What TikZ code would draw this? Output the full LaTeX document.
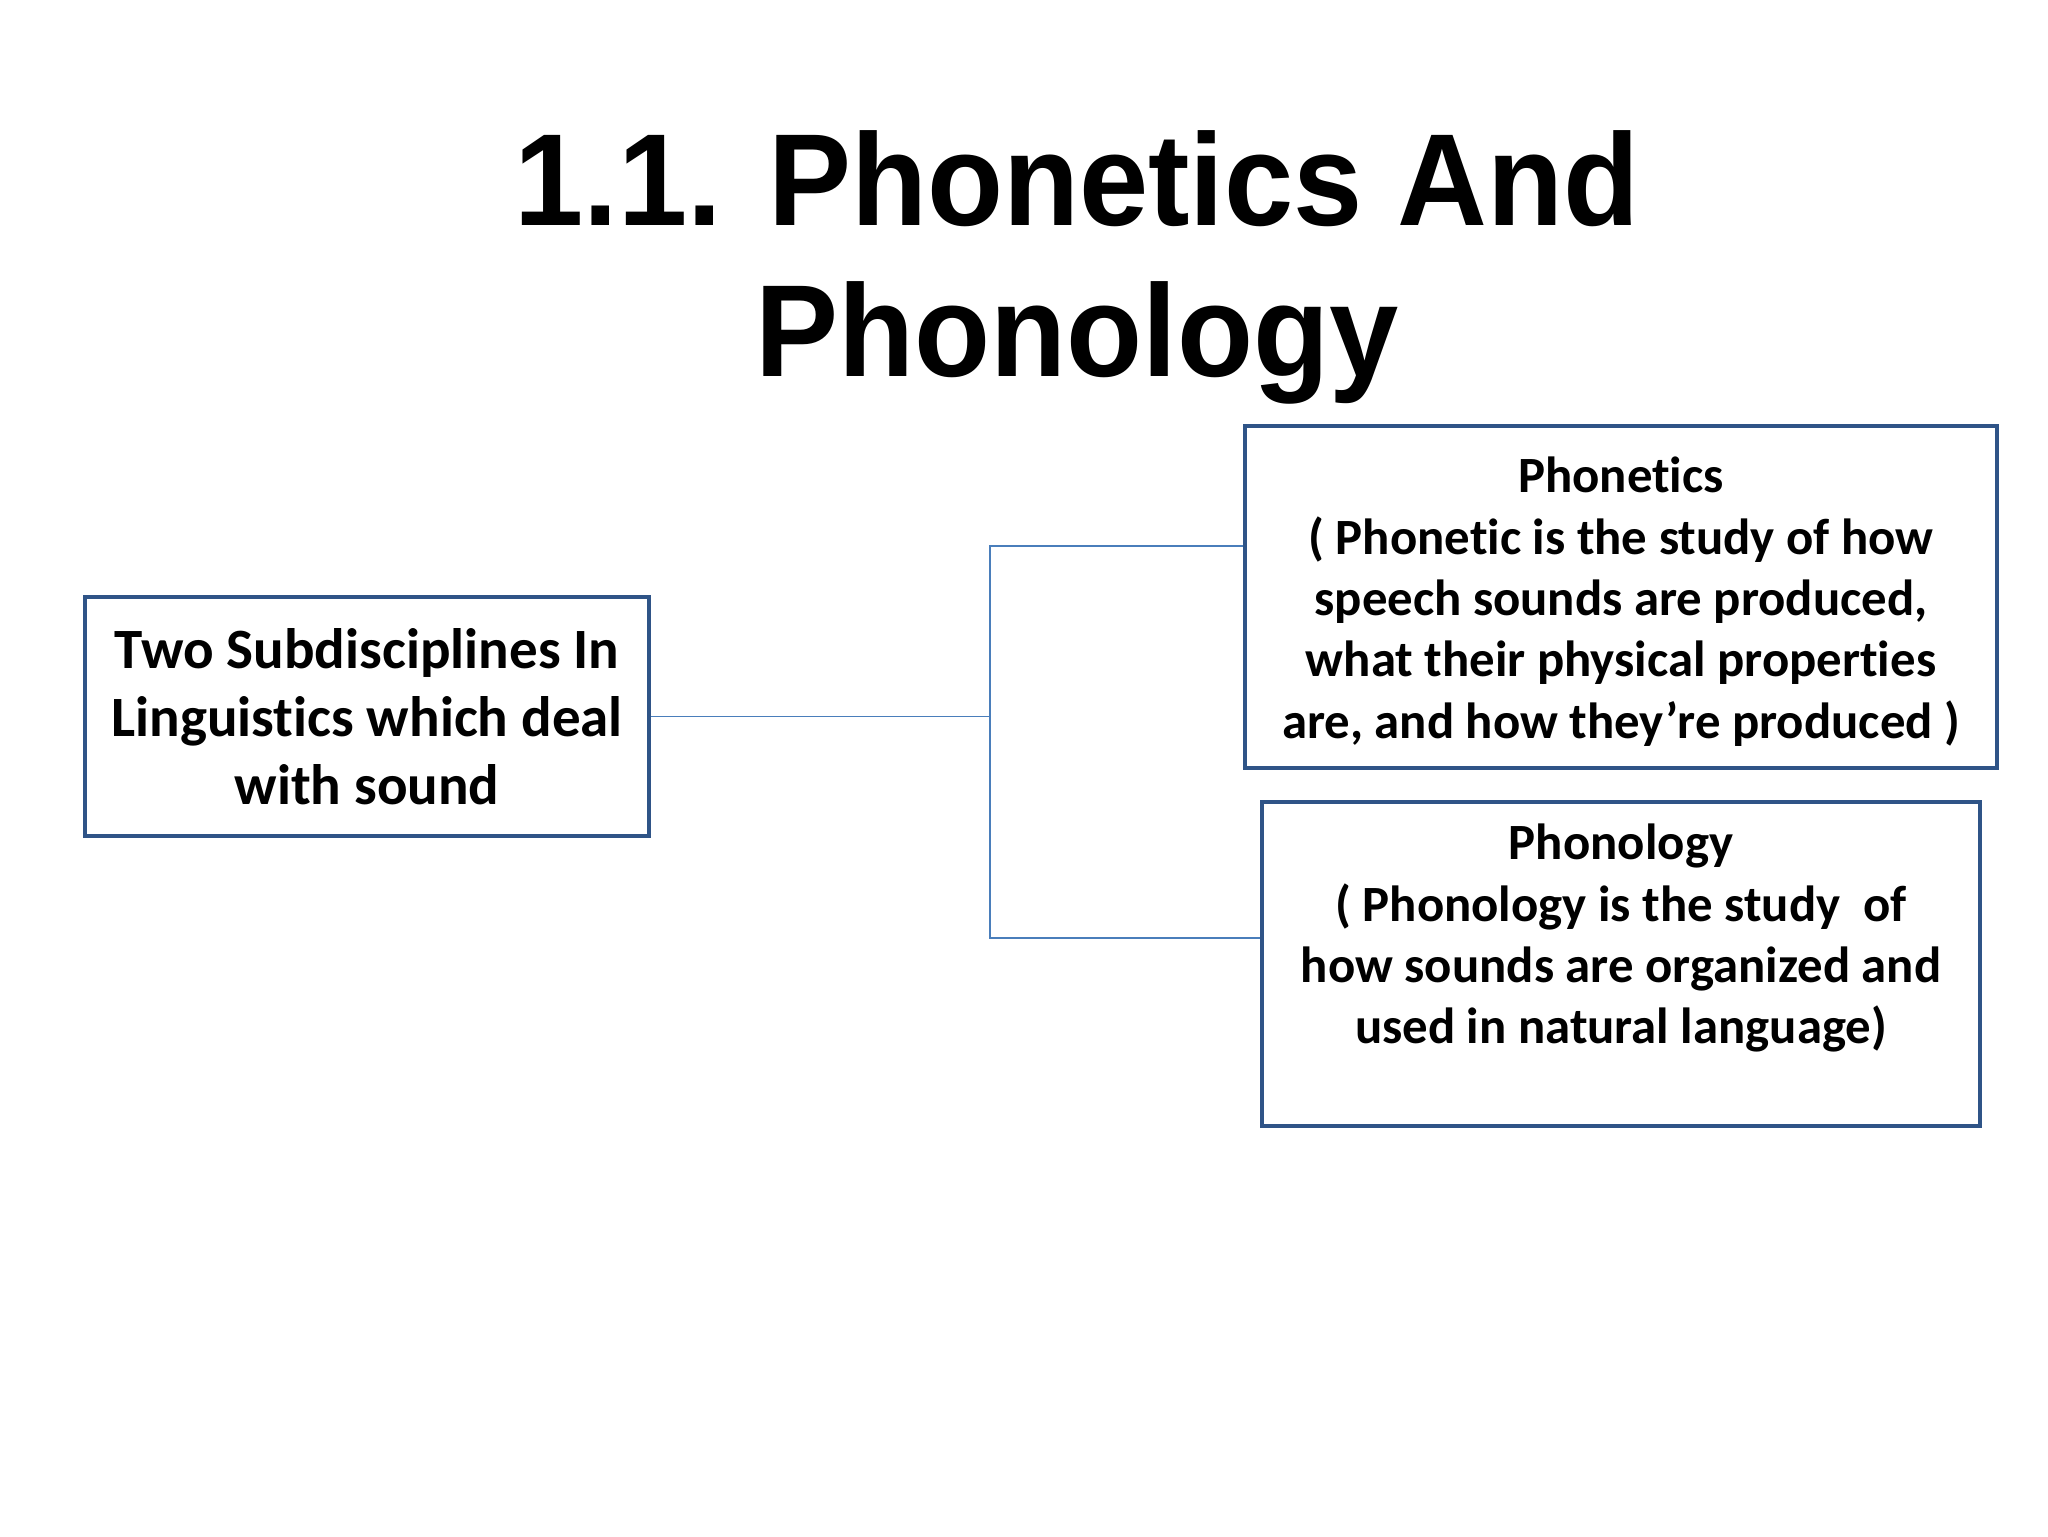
\documentclass[tikz,border=0pt]{standalone}
\usepackage{fontspec}
\newfontfamily\titlefont{Liberation Sans}[FakeStretch=0.95]
\newfontfamily\boxfont{Carlito}[Ligatures=NoCommon]
\definecolor{boxblue}{HTML}{2F5487}
\definecolor{linkblue}{HTML}{4A7EBB}
\begin{document}
\begin{tikzpicture}[x=0.5pt,y=-0.5pt,
  box/.style={draw=boxblue, line width=2pt, fill=white, align=center, inner sep=0pt},
  bigtext/.style={font=\boxfont\bfseries\fontsize{28.5pt}{34pt}\selectfont},
  smalltext/.style={font=\boxfont\bfseries\fontsize{25.4pt}{30.7pt}\selectfont},
  link/.style={draw=linkblue, line width=0.75pt},
  titletext/.style={font=\titlefont\bfseries\fontsize{65.5pt}{75.5pt}\selectfont, anchor=base, inner sep=0pt}]
\useasboundingbox (0,0) rectangle (2048,1536);
\fill[white] (0,0) rectangle (2048,1536);
\node[titletext] (t1) at (1077,225) {1.1. Phonetics And};
\node[titletext] (t2) at (1077,376) {Phonology};
\node[box, bigtext, minimum width=282pt, minimum height=119.5pt] (root) at (367,716.5)
  {Two Subdisciplines In\\Linguistics which deal\\with sound};
\node[box, smalltext, minimum width=376pt, minimum height=171pt] (pa) at (1621,597)
  {\rule{0pt}{22.5pt}Phonetics\\( Phonetic is the study of how\\speech sounds are produced,\\what their physical properties\\are, and how they’re produced )};
\node[box, smalltext, minimum width=359pt, minimum height=162pt] (pb) at (1621,964)
  {Phonology\\( Phonology is the study\ \ of\\how sounds are organized and\\used in natural language)\rule[-30pt]{0pt}{30pt}};
\coordinate (ja) at (990,546);
\coordinate (jb) at (990,938);
\draw[link] (root.east) -- (root.east -| ja);
\draw[link] (pa.west |- ja) -- (ja) -- (jb) -- (jb -| pb.west);
\end{tikzpicture}
\end{document}
